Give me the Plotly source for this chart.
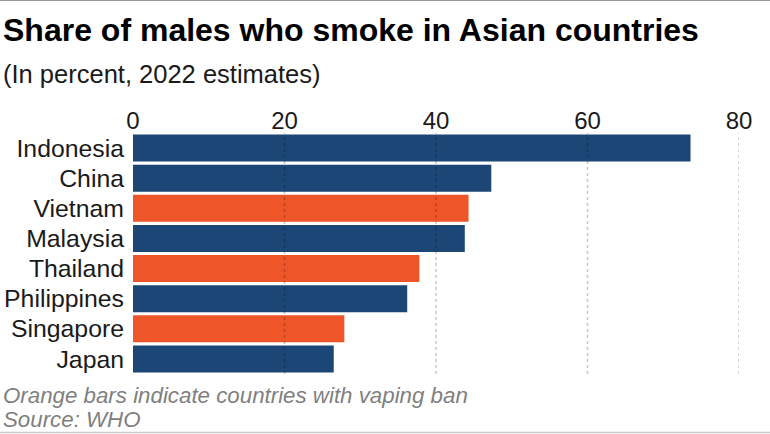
import plotly.graph_objects as go

# values (percent of males who smoke, 2022 est.)
countries = ["Indonesia", "China", "Vietnam", "Malaysia", "Thailand", "Philippines", "Singapore", "Japan"]
smokers_pct = [73.6, 47.3, 44.3, 43.8, 37.8, 36.2, 27.9, 26.5]
vaping_ban = [False, False, True, False, True, False, True, False]
tick_vals = [0, 20, 40, 60, 80]

BLUE = "#1b4675"
ORANGE = "#ee5629"
FONT = "Liberation Sans, Arial, sans-serif"

bar_colors = [ORANGE if b else BLUE for b in vaping_ban]

fig = go.Figure()
fig.add_trace(go.Bar(
    x=smokers_pct,
    y=countries,
    orientation="h",
    marker=dict(color=bar_colors, line=dict(width=0)),
    hoverinfo="x+y",
))

# dotted grid drawn above the bars, like the original
shapes = []
for t in tick_vals[1:]:
    shapes.append(dict(type="line", xref="x", yref="paper", x0=t, x1=t, y0=0, y1=1,
                       layer="above", line=dict(color="rgba(0,0,0,0.22)", width=1.5, dash="dot")))
# thin rules at top and bottom of the graphic
shapes.append(dict(type="line", xref="paper", yref="paper", x0=-0.22, x1=1.06, y0=1.553, y1=1.553,
                   line=dict(color="#777777", width=2)))
shapes.append(dict(type="line", xref="paper", yref="paper", x0=-0.22, x1=1.06, y0=-0.243, y1=-0.243,
                   line=dict(color="#cccccc", width=1.5)))

annotations = [
    dict(text="<b>Share of males who smoke in Asian countries</b>", xref="paper", yref="paper",
         x=-0.217, y=1.429, xanchor="left", yanchor="middle", showarrow=False,
         font=dict(family=FONT, size=32, color="#000000")),
    dict(text="(In percent, 2022 estimates)", xref="paper", yref="paper",
         x=-0.217, y=1.243, xanchor="left", yanchor="middle", showarrow=False,
         font=dict(family=FONT, size=25.5, color="#1a1a1a")),
    dict(text="<i>Orange bars indicate countries with vaping ban</i>", xref="paper", yref="paper",
         x=-0.217, y=-0.088, xanchor="left", yanchor="middle", showarrow=False,
         font=dict(family=FONT, size=22.3, color="#7f7f7f")),
    dict(text="<i>Source: WHO</i>", xref="paper", yref="paper",
         x=-0.217, y=-0.19, xanchor="left", yanchor="middle", showarrow=False,
         font=dict(family=FONT, size=22.3, color="#7f7f7f")),
]

fig.update_layout(
    width=770,
    height=434,
    margin=dict(l=133, r=31, t=133, b=60),
    paper_bgcolor="white",
    plot_bgcolor="white",
    bargap=0.1,
    showlegend=False,
    shapes=shapes,
    annotations=annotations,
    font=dict(family=FONT, size=24, color="#1a1a1a"),
)
fig.update_xaxes(
    side="top",
    range=[0, 80],
    tickvals=tick_vals,
    showgrid=False,
    zeroline=False,
    showline=False,
    ticks="",
    automargin=False,
    ticklabelstandoff=-2,
    tickfont=dict(family=FONT, size=24, color="#1a1a1a"),
)
fig.update_yaxes(
    categoryorder="array",
    categoryarray=countries[::-1],
    showgrid=False,
    zeroline=False,
    showline=False,
    ticks="",
    automargin=False,
    ticklabelstandoff=8,
    tickfont=dict(family=FONT, size=24.8, color="#1a1a1a"),
)

# drop the browser's default body margin so the figure sits at the page corner
fig.write_html("out.html", config={"displayModeBar": False},
               post_script="document.body.style.margin='0';")
